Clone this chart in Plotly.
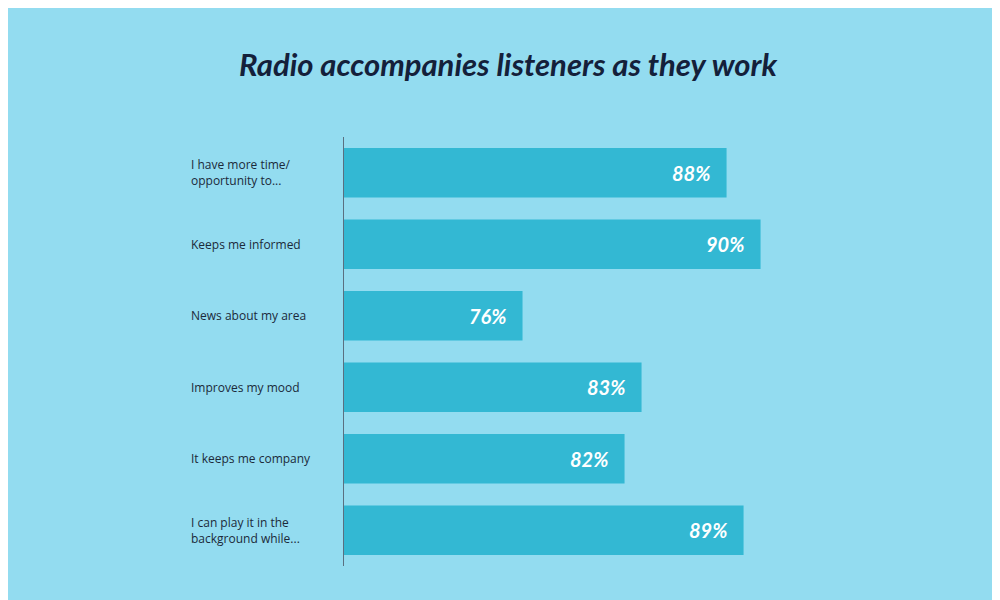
import plotly.graph_objects as go

categories = ["I have more time/<br>opportunity to...", "Keeps me informed", "News about my area",
              "Improves my mood", "It keeps me company", "I can play it in the<br>background while..."]
values = [88, 90, 76, 83, 82, 89]
labels = [f"{v}%&nbsp;&nbsp;&nbsp;" for v in values]

fig = go.Figure(go.Bar(
    y=list(range(len(values))), x=values, orientation="h",
    marker=dict(color="#33b8d3", line=dict(width=0)),
    text=labels, textposition="inside", insidetextanchor="end",
    textfont=dict(family="Lato", size=20, color="white", style="italic", weight="bold"),
    hoverinfo="skip",
))

# row labels on the left
for i, c in enumerate(categories):
    fig.add_annotation(x=(189 - 344) / 556, y=i, xref="paper", yref="y", text=c,
                       showarrow=False, xanchor="left", align="left",
                       font=dict(family="Open Sans", size=12, color="#1b2a3a"))

fig.update_layout(
    width=1000, height=600,
    paper_bgcolor="#93dcf0", plot_bgcolor="rgba(0,0,0,0)",
    margin=dict(l=336, r=108, t=129, b=42),
    bargap=0.31, showlegend=False,
    uniformtext=dict(minsize=20, mode="show"),
    title=dict(text="<b><i>Radio accompanies listeners as they work</i></b>",
               x=0.5, xanchor="center", y=0.905, yanchor="middle",
               font=dict(family="Lato", size=31, color="#14203a")),
    xaxis=dict(range=[65.5, 98.2], showgrid=False, zeroline=False, showticklabels=False,
               showline=False),
    yaxis=dict(autorange="reversed", showgrid=False, zeroline=False, showticklabels=False,
               showline=True, linecolor="#5a6f80", linewidth=1),
)

fig.write_html("out.html")
